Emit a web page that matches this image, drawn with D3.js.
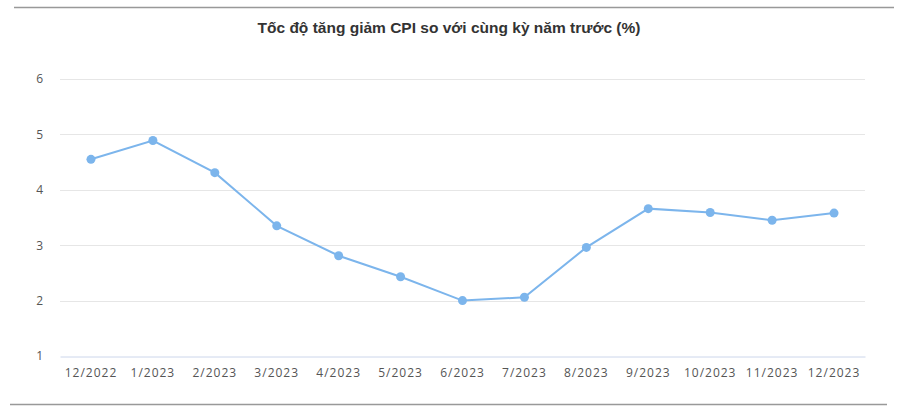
<!DOCTYPE html>
<html><head><meta charset="utf-8">
<script src="https://cdn.jsdelivr.net/npm/d3@7"></script>
<style>body{margin:0;background:#fff}svg{display:block}</style>
</head><body>
<svg id="c" width="904" height="411"></svg>
<script>
const categories = ["12/2022","1/2023","2/2023","3/2023","4/2023","5/2023","6/2023","7/2023","8/2023","9/2023","10/2023","11/2023","12/2023"];
const cpiValues = [4.55,4.89,4.31,3.35,2.81,2.43,2.00,2.06,2.96,3.66,3.59,3.45,3.58];
const yTicks = [1,2,3,4,5,6];
const title = "Tốc độ tăng giảm CPI so với cùng kỳ năm trước (%)";

const svg = d3.select("#c");
svg.append("line").attr("x1",14).attr("x2",894).attr("y1",7.5).attr("y2",7.5).attr("stroke","#999").attr("stroke-width",1.5);
svg.append("line").attr("x1",10).attr("x2",887).attr("y1",404.5).attr("y2",404.5).attr("stroke","#999").attr("stroke-width",1.5);

svg.append("text").attr("x",449).attr("y",33).attr("text-anchor","middle")
  .attr("font-family","Liberation Sans, Arial, sans-serif").attr("font-weight","bold").attr("font-size",15.5)
  .attr("fill","#333").text(title);

const x = d3.scaleBand().domain(categories).range([60,865]);
const y = d3.scaleLinear().domain([1,6]).range([356,79]);

const grid = svg.append("g");
grid.selectAll("line").data(yTicks.filter(t=>t>1)).join("line")
  .attr("x1",60).attr("x2",865).attr("y1",d=>Math.round(y(d))+0.5).attr("y2",d=>Math.round(y(d))+0.5)
  .attr("stroke","#e6e6e6");

const yAxis = svg.append("g").attr("transform","translate(60,0)")
  .call(d3.axisLeft(y).tickValues(yTicks).tickSize(0).tickPadding(17).tickFormat(d3.format("d")));
yAxis.select(".domain").remove();
yAxis.selectAll("text").attr("font-family","Open Sans, sans-serif").attr("font-size",12).attr("fill","#555");

const xAxis = svg.append("g").attr("transform",`translate(0,${Math.round(y(1))+0.5})`)
  .call(d3.axisBottom(x).tickSize(0).tickPadding(12));
xAxis.select(".domain").attr("stroke","#ccd6eb");
xAxis.selectAll("text").attr("font-family","Open Sans, sans-serif").attr("font-size",12)
  .attr("fill","#555").attr("letter-spacing","1px");

const cx = d => x(d) + x.bandwidth()/2;
const pts = categories.map((c,i)=>[cx(c), y(cpiValues[i])]);
svg.append("path").attr("d", d3.line()(pts)).attr("fill","none").attr("stroke","#7cb5ec").attr("stroke-width",2);
svg.append("g").selectAll("circle").data(pts).join("circle")
  .attr("cx",d=>d[0]).attr("cy",d=>d[1]).attr("r",4.5).attr("fill","#7cb5ec");
</script>
</body></html>
